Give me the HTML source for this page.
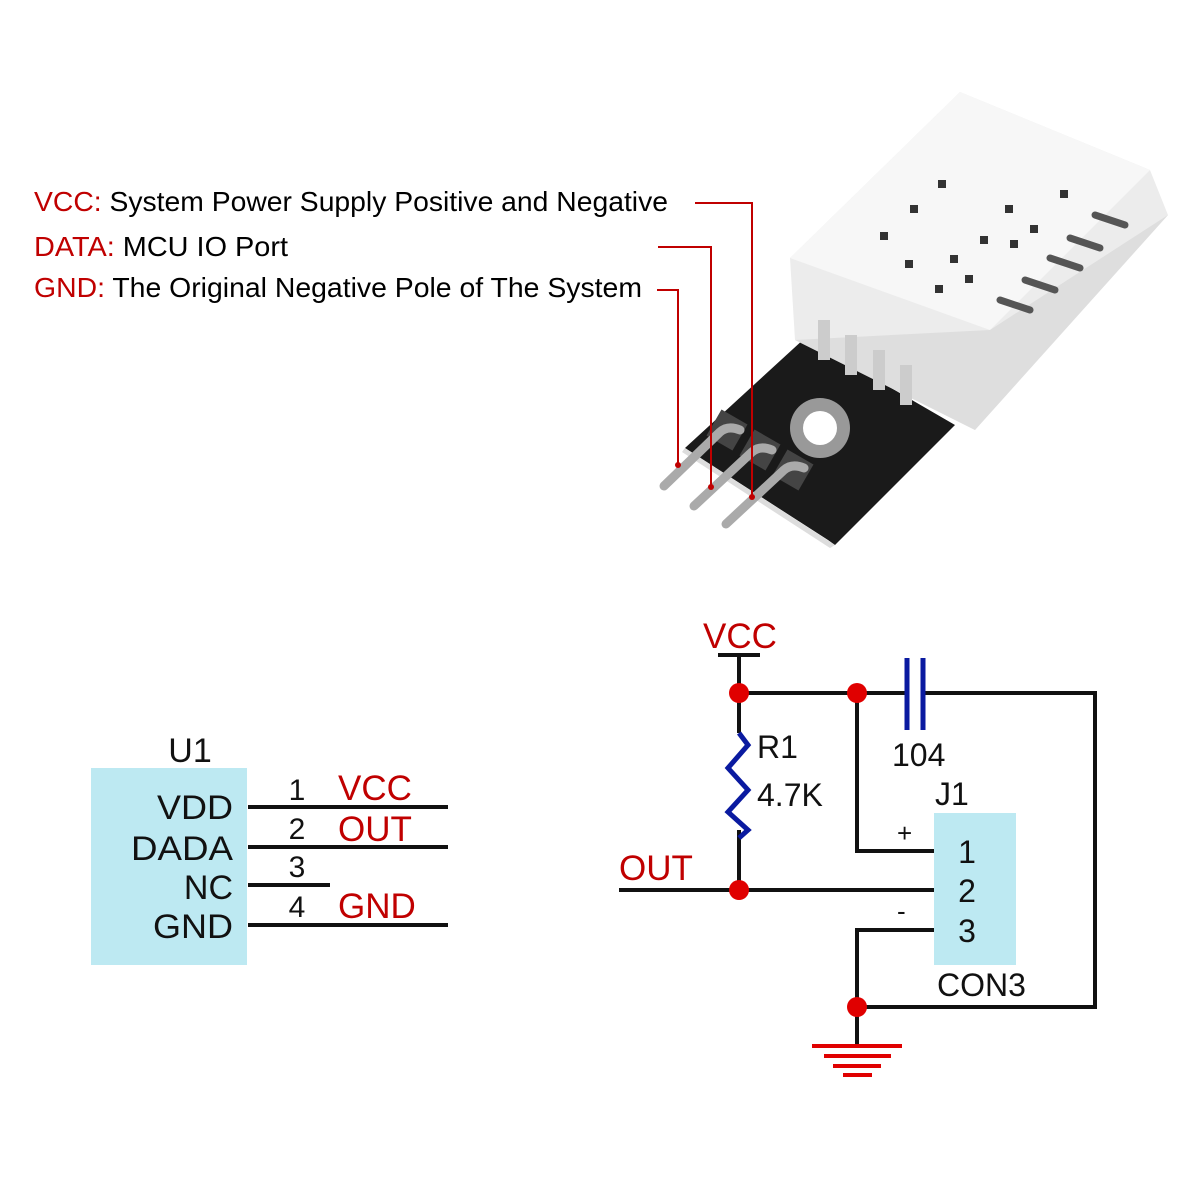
<!DOCTYPE html>
<html><head><meta charset="utf-8"><style>
html,body{margin:0;padding:0;background:#fff}
svg{display:block}
text{font-family:"Liberation Sans",Arial,sans-serif}
</style></head><body>
<svg width="1200" height="1200" viewBox="0 0 1200 1200" xmlns="http://www.w3.org/2000/svg">
<rect width="1200" height="1200" fill="#fff"/>
<!-- top labels -->
<g font-size="28">
<text x="34" y="211" textLength="634" lengthAdjust="spacingAndGlyphs"><tspan fill="#c00000">VCC:</tspan> System Power Supply Positive and Negative</text>
<text x="34" y="256" textLength="254" lengthAdjust="spacingAndGlyphs"><tspan fill="#c00000">DATA:</tspan> MCU IO Port</text>
<text x="34" y="297" textLength="608" lengthAdjust="spacingAndGlyphs"><tspan fill="#c00000">GND:</tspan> The Original Negative Pole of The System</text>
</g>
<!-- PCB -->
<polygon points="685,448 805,338 955,425 835,545 828,540" fill="#1a1a1a"/>
<polygon points="685,448 835,545 830,548 682,452" fill="#ddd"/>
<circle cx="820" cy="428" r="30" fill="#999"/>
<circle cx="820" cy="428" r="17" fill="#fff"/>
<rect x="712" y="415" width="30" height="30" fill="#444" transform="rotate(30 727 430)"/>
<rect x="745" y="435" width="30" height="30" fill="#444" transform="rotate(30 760 450)"/>
<rect x="778" y="455" width="30" height="30" fill="#444" transform="rotate(30 793 470)"/>
<!-- pins -->
<g stroke="#aaa" stroke-width="9" stroke-linecap="round" fill="none">
<path d="M664,486 L720,432 Q728,425 740,430"/>
<path d="M694,506 L752,452 Q760,445 772,450"/>
<path d="M726,524 L784,470 Q792,463 804,468"/>
</g>
<!-- sensor body -->
<polygon points="790,258 960,92 1150,170 1168,215 975,430 795,340" fill="#ececec"/>
<polygon points="790,258 960,92 1150,170 990,330" fill="#f7f7f7"/>
<polygon points="795,340 990,330 1168,215 975,430" fill="#dedede"/>
<g fill="#333">
<rect x="938" y="180" width="8" height="8"/><rect x="910" y="205" width="8" height="8"/><rect x="880" y="232" width="8" height="8"/><rect x="950" y="255" width="8" height="8"/><rect x="905" y="260" width="8" height="8"/><rect x="1005" y="205" width="8" height="8"/><rect x="1030" y="225" width="8" height="8"/><rect x="980" y="236" width="8" height="8"/><rect x="935" y="285" width="8" height="8"/><rect x="965" y="275" width="8" height="8"/><rect x="1010" y="240" width="8" height="8"/><rect x="1060" y="190" width="8" height="8"/>
</g>
<g stroke="#555" stroke-width="7" stroke-linecap="round">
<line x1="1000" y1="300" x2="1030" y2="310"/><line x1="1025" y1="280" x2="1055" y2="290"/><line x1="1050" y1="258" x2="1080" y2="268"/><line x1="1070" y1="238" x2="1100" y2="248"/><line x1="1095" y1="215" x2="1125" y2="225"/>
</g>
<g fill="#ccc"><rect x="818" y="320" width="12" height="40"/><rect x="845" y="335" width="12" height="40"/><rect x="873" y="350" width="12" height="40"/><rect x="900" y="365" width="12" height="40"/></g>
<!-- leader lines -->
<g stroke="#c00000" stroke-width="2" fill="none">
<polyline points="695,203 752,203 752,497"/>
<polyline points="658,247 711,247 711,487"/>
<polyline points="657,290 678,290 678,465"/>
</g>
<g fill="#c00000"><circle cx="752" cy="497" r="3"/><circle cx="711" cy="487" r="3"/><circle cx="678" cy="465" r="3"/></g>
<!-- left schematic -->
<rect x="91" y="768" width="156" height="197" fill="#bde9f2"/>
<g font-size="34" fill="#111">
<text x="190" y="762" text-anchor="middle">U1</text>
<text x="233" y="819" text-anchor="end" textLength="76" lengthAdjust="spacingAndGlyphs">VDD</text>
<text x="233" y="860" text-anchor="end" textLength="102" lengthAdjust="spacingAndGlyphs">DADA</text>
<text x="233" y="899" text-anchor="end">NC</text>
<text x="233" y="938" text-anchor="end" textLength="80" lengthAdjust="spacingAndGlyphs">GND</text>
<g font-size="30"><text x="297" y="800" text-anchor="middle">1</text><text x="297" y="839" text-anchor="middle">2</text><text x="297" y="877" text-anchor="middle">3</text><text x="297" y="917" text-anchor="middle">4</text></g>
</g>
<g stroke="#111" stroke-width="4"><line x1="248" y1="807" x2="448" y2="807"/><line x1="248" y1="847" x2="448" y2="847"/><line x1="248" y1="885" x2="330" y2="885"/><line x1="248" y1="925" x2="448" y2="925"/></g>
<g font-size="35" fill="#c00000"><text x="338" y="800">VCC</text><text x="338" y="841">OUT</text><text x="338" y="918">GND</text></g>
<!-- right schematic -->
<rect x="934" y="813" width="82" height="152" fill="#bde9f2"/>
<g stroke="#111" stroke-width="4" fill="none">
<line x1="718" y1="655" x2="760" y2="655"/>
<line x1="739" y1="655" x2="739" y2="733"/>
<line x1="739" y1="830" x2="739" y2="890"/>
<line x1="739" y1="693" x2="905" y2="693"/>
<polyline points="922,693 1095,693 1095,1007 857,1007"/>
<polyline points="857,693 857,851 934,851"/>
<line x1="619" y1="890" x2="934" y2="890"/>
<polyline points="934,930 857,930 857,1045"/>
</g>
<g stroke="#0a1aa0" stroke-width="5" fill="none">
<line x1="907" y1="658" x2="907" y2="730"/><line x1="923" y1="658" x2="923" y2="730"/>
<polyline points="739,733 748,745 728,768 748,790 728,812 748,830 739,838"/>
</g>
<g fill="#e00000"><circle cx="739" cy="693" r="10"/><circle cx="857" cy="693" r="10"/><circle cx="739" cy="890" r="10"/><circle cx="857" cy="1007" r="10"/></g>
<g stroke="#e00000" stroke-width="4"><line x1="812" y1="1046" x2="902" y2="1046"/><line x1="824" y1="1056" x2="891" y2="1056"/><line x1="833" y1="1066" x2="881" y2="1066"/><line x1="843" y1="1075" x2="872" y2="1075"/></g>
<g font-size="32" fill="#111">
<text x="757" y="758">R1</text><text x="757" y="806">4.7K</text>
<text x="892" y="766">104</text><text x="935" y="805">J1</text>
<text x="897" y="842" font-size="26">+</text><text x="897" y="920" font-size="26">-</text>
<text x="967" y="863" text-anchor="middle">1</text><text x="967" y="902" text-anchor="middle">2</text><text x="967" y="942" text-anchor="middle">3</text>
<text x="937" y="996">CON3</text>
</g>
<g font-size="35" fill="#c00000"><text x="703" y="648">VCC</text><text x="619" y="880">OUT</text></g>
</svg>
</body></html>
